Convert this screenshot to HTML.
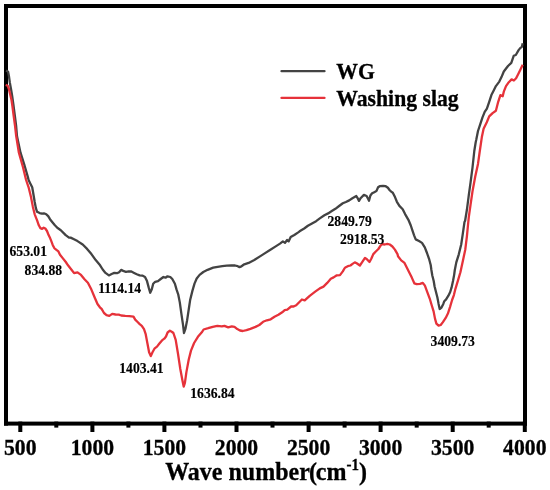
<!DOCTYPE html>
<html><head><meta charset="utf-8"><style>
html,body{margin:0;padding:0;background:#fff;}
svg{display:block;}
text{font-family:"Liberation Serif",serif;font-weight:bold;fill:#000;stroke:#000;stroke-width:0.3px;}
.tl{font-size:21.7px;}
.pk{font-size:13.65px;stroke-width:0.15px;}
.ax{font-size:24px;}
.lg{font-size:21.7px;}
</style></head><body>
<svg width="550" height="490" viewBox="0 0 550 490">
<rect x="0" y="0" width="550" height="490" fill="#fff"/>
<rect x="4" y="4" width="523" height="4" fill="#000"/>
<rect x="4" y="4" width="4" height="421.6" fill="#000"/>
<rect x="523" y="4" width="4" height="421.6" fill="#000"/>
<rect x="4" y="421.6" width="523" height="4" fill="#000"/>
<path d="M6.1,70.6 L8.1,71.8 L8.9,75.9 L9.8,82.4 L11.0,89.0 L12.2,96.3 L13.3,104.0 L14.8,115.4 L16.1,125.6 L17.0,136.3 L20.5,152.7 L24.6,165.7 L27.9,177.1 L28.6,180.0 L30.4,183.7 L32.2,187.3 L33.5,194.7 L34.7,202.0 L35.9,208.2 L37.1,211.8 L39.6,213.1 L42.0,213.7 L43.9,213.3 L46.3,214.3 L48.2,216.1 L50.0,219.2 L52.4,222.2 L54.9,225.3 L57.3,227.8 L60.8,230.2 L65.7,235.1 L69.0,237.6 L70.6,237.6 L74.0,239.3 L77.5,241.1 L82.7,244.5 L87.1,248.9 L91.4,254.1 L95.7,260.1 L100.1,265.3 L102.7,269.5 L105.5,272.9 L108.9,275.4 L111.6,274.0 L114.3,272.9 L117.0,273.2 L119.1,272.2 L121.1,269.9 L123.2,270.9 L125.9,271.8 L128.6,271.3 L131.4,271.5 L134.1,272.9 L136.8,274.3 L139.6,275.4 L142.3,275.6 L145.0,277.0 L147.0,281.1 L148.8,287.9 L150.2,292.7 L151.8,289.3 L153.2,283.8 L155.2,281.8 L158.0,281.1 L160.7,279.0 L163.4,277.0 L165.5,277.7 L167.5,276.3 L170.3,277.0 L172.3,279.0 L174.9,283.7 L176.5,289.4 L178.2,294.3 L179.8,302.4 L181.4,313.9 L183.1,325.3 L184.0,333.0 L185.5,328.6 L187.1,320.4 L188.8,309.0 L190.2,299.7 L192.4,290.9 L194.5,283.6 L196.7,278.5 L199.6,274.9 L203.3,272.0 L207.6,269.8 L213.2,267.7 L217.7,266.8 L222.3,266.2 L226.8,265.6 L231.4,265.3 L235.0,265.5 L237.7,266.2 L239.5,267.1 L241.4,266.4 L243.2,265.0 L244.3,264.3 L248.6,262.9 L254.3,260.0 L260.0,256.4 L264.3,253.6 L270.0,250.0 L275.7,246.4 L280.0,243.6 L282.9,241.4 L285.0,242.9 L287.1,240.0 L288.6,241.4 L290.7,237.1 L294.3,235.0 L298.6,232.1 L299.6,231.3 L304.2,228.5 L307.9,225.8 L312.0,223.5 L316.1,221.2 L319.8,218.4 L324.4,215.2 L328.1,213.4 L331.8,211.1 L335.4,208.8 L339.1,206.0 L342.8,203.3 L345.9,202.0 L349.2,200.4 L352.4,198.2 L356.3,196.0 L357.9,198.7 L359.0,200.9 L360.6,198.2 L363.9,194.9 L366.6,196.0 L368.3,199.3 L369.0,200.7 L370.4,195.5 L372.1,193.3 L374.3,192.2 L376.4,191.1 L378.1,187.3 L379.7,186.2 L383.0,185.9 L385.7,186.2 L387.9,187.8 L389.5,190.0 L391.2,191.6 L392.8,192.7 L395.0,197.1 L396.9,201.8 L399.4,205.9 L402.7,209.2 L405.1,214.1 L408.4,219.8 L410.8,225.5 L412.4,230.4 L414.1,235.3 L415.7,239.4 L419.0,241.0 L422.0,242.9 L424.8,247.3 L427.0,253.0 L429.3,259.7 L430.7,265.0 L431.4,270.0 L432.3,275.5 L433.7,281.0 L434.6,286.5 L436.0,292.0 L437.4,297.5 L438.6,303.9 L439.7,309.0 L441.5,307.6 L443.3,303.9 L444.3,301.2 L446.1,299.4 L448.4,295.7 L450.2,292.0 L451.6,287.4 L453.0,281.0 L454.2,274.6 L454.8,270.0 L456.3,262.4 L458.8,254.3 L461.2,244.5 L462.9,233.1 L464.5,222.0 L465.1,220.8 L466.9,209.8 L468.8,195.1 L470.6,182.2 L472.5,167.6 L474.3,151.0 L475.7,142.2 L476.2,140.0 L478.0,131.0 L480.2,124.3 L482.4,117.6 L484.7,111.9 L486.9,108.6 L489.2,101.8 L491.4,95.1 L493.7,90.6 L495.9,86.1 L499.3,81.6 L501.5,77.1 L503.8,71.5 L508.0,66.0 L511.3,62.8 L513.7,55.8 L515.8,55.0 L518.6,50.1 L520.2,48.1 L521.9,46.8 L522.7,43.2" fill="none" stroke="#434343" stroke-width="2.3" stroke-linejoin="round"/>
<path d="M5.7,84.9 L7.7,85.7 L8.9,89.0 L10.1,94.0 L11.5,100.0 L12.4,106.0 L13.6,115.4 L15.0,125.6 L16.2,136.0 L18.9,152.7 L23.0,167.3 L26.1,180.0 L28.6,187.3 L31.0,197.1 L32.9,206.9 L34.7,214.3 L37.1,220.4 L38.8,225.3 L40.4,228.1 L42.1,228.9 L43.7,227.7 L45.3,228.5 L47.0,231.0 L48.6,235.1 L50.2,238.3 L51.5,241.6 L52.7,244.9 L54.3,248.1 L56.4,249.8 L58.4,251.4 L60.0,254.7 L62.5,257.9 L65.8,262.0 L68.0,265.3 L71.5,269.7 L74.1,273.1 L77.5,272.3 L81.0,274.9 L84.5,279.2 L87.9,282.7 L91.4,289.6 L95.0,298.3 L97.5,304.0 L99.9,307.3 L101.6,308.9 L104.0,313.0 L106.5,315.1 L109.3,315.9 L112.2,313.9 L115.5,314.5 L118.8,314.7 L121.2,315.5 L125.3,315.9 L129.4,316.1 L133.5,316.7 L135.2,319.6 L137.6,322.0 L139.7,324.1 L141.8,325.8 L144.0,329.2 L145.7,334.2 L147.4,343.2 L149.1,352.2 L150.8,356.1 L152.5,352.2 L154.7,348.3 L157.0,346.6 L159.2,343.8 L162.0,340.4 L164.3,338.7 L166.0,336.5 L167.6,332.5 L169.9,330.6 L172.1,332.0 L173.4,333.0 L175.7,339.9 L178.0,353.7 L180.3,369.0 L182.6,381.3 L183.7,386.6 L184.9,382.8 L186.4,372.1 L188.7,359.8 L191.0,350.6 L194.1,343.0 L197.9,336.8 L201.8,332.3 L203.6,329.5 L208.2,328.2 L212.7,326.8 L217.3,325.9 L221.8,326.4 L224.5,325.9 L228.2,327.3 L231.8,326.4 L234.5,326.8 L237.3,329.1 L240.0,330.5 L242.7,331.0 L246.5,330.1 L250.4,328.8 L255.5,326.9 L259.3,325.0 L263.1,321.8 L266.9,320.3 L270.7,319.3 L274.5,316.7 L278.4,314.8 L282.2,312.3 L284.7,310.1 L287.3,309.7 L291.1,306.5 L293.6,306.5 L296.2,305.3 L298.7,302.7 L301.9,299.5 L304.7,300.4 L309.7,295.8 L315.2,291.7 L319.8,288.4 L323.5,286.6 L327.2,282.9 L330.8,278.8 L333.6,277.4 L336.8,275.3 L340.0,275.1 L342.8,271.4 L344.6,268.2 L345.3,267.5 L347.8,266.2 L350.4,265.5 L352.9,263.6 L354.8,262.4 L356.7,263.3 L359.9,265.5 L362.5,261.7 L365.0,257.9 L366.9,259.2 L369.5,262.0 L371.4,258.5 L373.3,254.1 L375.8,251.5 L378.4,249.0 L380.9,245.2 L382.2,244.2 L384.7,244.5 L387.3,243.9 L389.8,244.5 L392.4,246.5 L394.9,249.6 L397.5,254.1 L398.0,256.3 L401.2,260.4 L404.5,262.9 L406.9,267.8 L409.4,272.7 L411.8,277.6 L414.3,283.3 L416.7,284.1 L420.0,283.8 L422.8,282.8 L424.9,285.7 L427.3,292.2 L429.8,298.8 L431.4,304.3 L433.6,311.4 L435.0,318.6 L436.4,323.6 L438.6,325.7 L440.7,325.0 L442.9,322.1 L445.7,317.9 L447.9,313.6 L450.0,307.1 L452.1,300.0 L453.9,295.1 L455.5,288.6 L458.0,280.4 L460.4,272.2 L462.9,260.8 L465.3,249.4 L466.9,236.3 L468.1,224.0 L468.8,217.1 L470.6,204.3 L472.5,191.4 L475.2,176.7 L478.0,163.9 L479.8,151.0 L481.8,137.3 L483.6,128.8 L486.9,122.0 L489.2,116.4 L492.6,113.1 L495.9,110.8 L498.2,101.8 L500.4,95.1 L502.7,96.2 L503.8,91.7 L506.0,86.1 L508.3,82.8 L511.6,79.4 L513.9,80.5 L516.1,78.3 L518.4,73.8 L520.6,69.3 L522.7,64.8" fill="none" stroke="#e6323a" stroke-width="2.3" stroke-linejoin="round"/>
<rect x="18.3" y="421.6" width="4" height="10.4" fill="#000"/><rect x="90.4" y="421.6" width="4" height="10.4" fill="#000"/><rect x="162.4" y="421.6" width="4" height="10.4" fill="#000"/><rect x="234.5" y="421.6" width="4" height="10.4" fill="#000"/><rect x="306.6" y="421.6" width="4" height="10.4" fill="#000"/><rect x="378.6" y="421.6" width="4" height="10.4" fill="#000"/><rect x="450.7" y="421.6" width="4" height="10.4" fill="#000"/><rect x="522.8" y="421.6" width="4" height="10.4" fill="#000"/><rect x="54.3" y="421.6" width="4" height="6" fill="#000"/><rect x="126.4" y="421.6" width="4" height="6" fill="#000"/><rect x="198.5" y="421.6" width="4" height="6" fill="#000"/><rect x="270.5" y="421.6" width="4" height="6" fill="#000"/><rect x="342.6" y="421.6" width="4" height="6" fill="#000"/><rect x="414.7" y="421.6" width="4" height="6" fill="#000"/><rect x="486.7" y="421.6" width="4" height="6" fill="#000"/>
<text x="20.3" y="0" text-anchor="middle" class="tl" transform="translate(0,455) scale(1,1.085)">500</text><text x="92.4" y="0" text-anchor="middle" class="tl" transform="translate(0,455) scale(1,1.085)">1000</text><text x="164.4" y="0" text-anchor="middle" class="tl" transform="translate(0,455) scale(1,1.085)">1500</text><text x="236.5" y="0" text-anchor="middle" class="tl" transform="translate(0,455) scale(1,1.085)">2000</text><text x="308.6" y="0" text-anchor="middle" class="tl" transform="translate(0,455) scale(1,1.085)">2500</text><text x="380.6" y="0" text-anchor="middle" class="tl" transform="translate(0,455) scale(1,1.085)">3000</text><text x="452.7" y="0" text-anchor="middle" class="tl" transform="translate(0,455) scale(1,1.085)">3500</text><text x="524.8" y="0" text-anchor="middle" class="tl" transform="translate(0,455) scale(1,1.085)">4000</text>
<text x="165.2" y="0" class="ax" transform="translate(0,480) scale(1,1.06)">Wave number<tspan dx="-0.8">(</tspan><tspan dx="-1.2">cm</tspan><tspan dy="-9" font-size="15">-1</tspan><tspan dy="9">)</tspan></text>
<line x1="281.5" y1="71.2" x2="324.5" y2="71.2" stroke="#434343" stroke-width="2.3" stroke-linecap="round"/>
<line x1="281.5" y1="97.9" x2="324.5" y2="97.9" stroke="#e6323a" stroke-width="2.3" stroke-linecap="round"/>
<text x="336.3" y="0" class="lg" transform="translate(0,79.1) scale(1,1.04)">WG</text>
<text x="336.3" y="0" class="lg" transform="translate(0,105.5) scale(1,1.04)">Washing slag</text>
<text x="9.5" y="255.6" class="pk">653.01</text>
<text x="24.6" y="275" class="pk">834.88</text>
<text x="98.3" y="293.0" class="pk">1114.14</text>
<text x="119.3" y="372.8" class="pk">1403.41</text>
<text x="190.3" y="398.4" class="pk">1636.84</text>
<text x="327.5" y="225.9" class="pk">2849.79</text>
<text x="340.1" y="243.9" class="pk">2918.53</text>
<text x="430.6" y="346.1" class="pk">3409.73</text>
</svg>
</body></html>
